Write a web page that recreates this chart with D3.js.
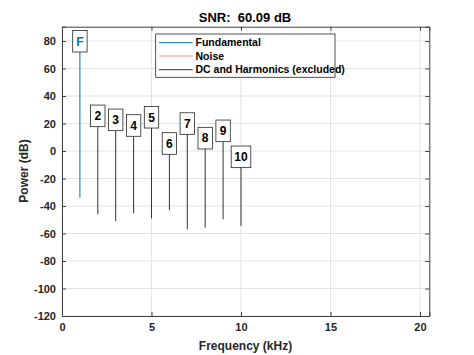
<!DOCTYPE html>
<html><head><meta charset="utf-8">
<script src="https://cdn.jsdelivr.net/npm/d3@7"></script>
<style>body{margin:0;background:#fff}svg{display:block;font-family:"Liberation Sans",Arial,sans-serif}</style>
</head><body><svg id="c" width="474" height="355"></svg>
<script>
const labels = ["F","2","3","4","5","6","7","8","9","10"];
const freqKHz = [1,2,3,4,5,6,7,8,9,10];
const peakDb = [72, 17.7, 14.8, 10.7, 16.7, -2.4, 12.1, 1.5, 6.8, -12.1];
const floorDb = [-34, -46, -51, -45.3, -49, -43.1, -57, -55.8, -49.7, -54.5];
const xTicks = [0,5,10,15,20];
const yTicks = [80,60,40,20,0,-20,-40,-60,-80,-100,-120];
const legendItems = ["Fundamental","Noise","DC and Harmonics (excluded)"];
const legendColors = ["#0072BD","#D95319","#333333"];
const titleText = "SNR:  60.09 dB";

const svg = d3.select("#c");
const L=62, R=429.3, T=26.7, B=316;
const x = d3.scaleLinear().domain([0,20.52]).range([L,R]);
const y = d3.scaleLinear().domain([-120,90.4]).range([B,T]);
const fmt = d => String(d);

// grid
svg.append("g").selectAll("line").data(xTicks).join("line")
  .attr("x1",d=>x(d)).attr("x2",d=>x(d)).attr("y1",T).attr("y2",B)
  .attr("stroke","#e3e3e3").attr("stroke-width",1);
svg.append("g").selectAll("line").data(yTicks).join("line")
  .attr("y1",d=>y(d)).attr("y2",d=>y(d)).attr("x1",L).attr("x2",R)
  .attr("stroke","#e3e3e3").attr("stroke-width",1);

// axes
const ax = svg.append("g").attr("transform",`translate(0,${B})`)
  .call(d3.axisBottom(x).tickValues(xTicks).tickSize(-4).tickPadding(8).tickFormat(fmt));
const ay = svg.append("g").attr("transform",`translate(${L},0)`)
  .call(d3.axisLeft(y).tickValues(yTicks).tickSize(-4).tickPadding(6).tickFormat(fmt));
const axT = svg.append("g").attr("transform",`translate(0,${T})`)
  .call(d3.axisTop(x).tickValues(xTicks).tickSize(-4).tickFormat(""));
const ayR = svg.append("g").attr("transform",`translate(${R},0)`)
  .call(d3.axisRight(y).tickValues(yTicks).tickSize(-4).tickFormat(""));
[ax,ay,axT,ayR].forEach(g=>{
  g.select(".domain").attr("stroke","#404040").attr("stroke-width",1);
  g.selectAll(".tick line").attr("stroke","#404040");
  g.selectAll("text").attr("font-size",11).attr("font-weight","bold").attr("fill","#262626")
   .attr("font-family","'Liberation Sans',Arial,sans-serif");
});
ax.selectAll("text").attr("dy","0.6em");

// stems
const idx = d3.range(labels.length);
svg.append("g").selectAll("line").data(idx).join("line")
  .attr("x1",i=>x(freqKHz[i])).attr("x2",i=>x(freqKHz[i]))
  .attr("y1",i=>y(floorDb[i])).attr("y2",i=>y(peakDb[i]))
  .attr("stroke",i=>i===0?legendColors[0]:legendColors[2]).attr("stroke-width",1);

// labels with boxes
const lg = svg.append("g").selectAll("g").data(idx).join("g");
lg.each(function(i){
  const g = d3.select(this);
  const w = labels[i].length>1?19.6:14.4, h=21.6;
  const cx = x(freqKHz[i]), yb = y(peakDb[i]);
  g.append("rect").attr("x",cx-w/2).attr("y",yb-h).attr("width",w).attr("height",h)
    .attr("fill","#fff").attr("stroke","#262626").attr("stroke-width",0.8);
  g.append("text").attr("x",cx).attr("y",yb-h/2).attr("dy","0.36em").attr("text-anchor","middle")
    .attr("font-size",12).attr("font-weight","bold")
    .attr("fill",i===0?"#0072BD":"#000").text(labels[i]);
});

// legend
const leg = svg.append("g");
leg.append("rect").attr("x",155.7).attr("y",34).attr("width",179.3).attr("height",43.3)
  .attr("fill","#fff").attr("stroke","#262626").attr("stroke-width",0.8);
const rowY = [42.7,56,69.7];
legendItems.forEach((t,i)=>{
  leg.append("line").attr("x1",159).attr("x2",192.7).attr("y1",rowY[i]).attr("y2",rowY[i])
    .attr("stroke",legendColors[i]).attr("stroke-width",1).attr("stroke-opacity",i===1?0.6:1);
  leg.append("text").attr("x",195.5).attr("y",rowY[i]).attr("dy","0.36em")
    .attr("font-size",10.5).attr("font-weight","bold").attr("fill","#000").text(t);
});

// title and axis labels
svg.append("text").attr("x",245).attr("y",22).attr("text-anchor","middle")
  .style("white-space","pre")
  .attr("font-size",13).attr("font-weight","bold").attr("fill","#000").text(titleText);
svg.append("text").attr("x",245.5).attr("y",350).attr("text-anchor","middle")
  .attr("font-size",12).attr("font-weight","bold").attr("fill","#262626").text("Frequency (kHz)");
svg.append("text").attr("transform","translate(28,171) rotate(-90)").attr("text-anchor","middle")
  .attr("font-size",12).attr("font-weight","bold").attr("fill","#262626").text("Power (dB)");
</script></body></html>
